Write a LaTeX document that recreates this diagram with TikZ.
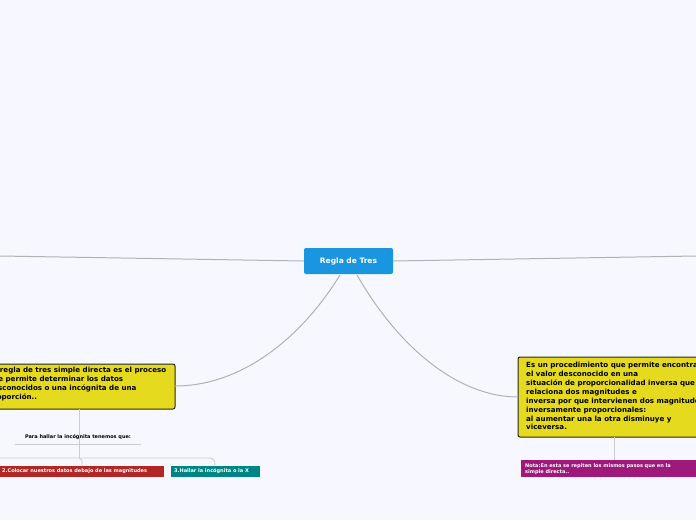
\documentclass[tikz,border=0pt]{standalone}
\usepackage{fontspec}
\setmainfont{DejaVu Sans}
\definecolor{yel}{RGB}{230,218,30}
\begin{document}
\begin{tikzpicture}[x=1pt,y=-1pt,
  conn/.style={draw=gray!60,line width=1pt},
  thin/.style={draw=gray!40,line width=0.8pt},
  yel/.style={draw=black!85,fill=yel,line width=1pt,rounded corners=2pt,inner sep=0pt},
  txt/.style={font=\bfseries\fontsize{7.1}{8.9}\selectfont,align=left,anchor=north west,inner sep=0pt},
  tag/.style={font=\bfseries\fontsize{5}{6.5}\selectfont,text=white,anchor=west,inner sep=0pt,align=left}]
\fill[blue!3!white] (0,0) rectangle (696,520);
\clip (0,0) rectangle (696,520);
% root
\node[fill={rgb,255:red,26;green,150;blue,224},rounded corners=2pt,minimum width=89pt,minimum height=26pt,text=white,font=\bfseries\fontsize{7.5}{9}\selectfont] (root) at (348.5,261) {Regla de Tres};
\coordinate (L) at (0,256);
\coordinate (R) at (696,256);
\draw[conn] (L) -- (root.west);
\draw[conn] (root.east) -- (R);
% left box
\draw[yel] (-12,364) rectangle (175,409);
\coordinate (lb) at (175,386);
\node[txt] (lt) at (-12,367) {La regla de tres simple directa es el proceso\\que permite determinar los datos\\desconocidos o una incógnita de una\\proporción..};
\draw[conn] (340,275) .. controls (300,340) and (240,386) .. (lb);
% right box
\draw[yel] (518,357) rectangle (705,437);
\coordinate (rb) at (518,397);
\node[txt] (rt) at (526,362) {Es un procedimiento que permite encontrar\\el valor desconocido en una\\situación de proporcionalidad inversa que\\relaciona dos magnitudes e\\inversa por que intervienen dos magnitudes\\inversamente proporcionales:\\al aumentar una la otra disminuye y\\viceversa.};
\draw[conn] (357,275) .. controls (400,350) and (460,397) .. (rb);
% left subtree
\node[font=\bfseries\fontsize{5}{6}\selectfont,inner sep=0pt] (para) at (78,437.5) {Para hallar la incógnita tenemos que:};
\draw[thin] (15,444) -- (141,444);
\draw[thin] (79,409) -- (79,444);
\draw[thin] (79,444) -- (79,458);
\fill[red!65!black!85] (-5,466) rectangle (164,477);
\node[tag] (r2) at (2,471.5) {2.Colocar nuestros datos debajo de las magnitudes};
\fill[teal!70!cyan!80!black] (171,466) rectangle (260,477);
\node[tag] (r3) at (174,471.5) {3.Hallar la incógnita o la X};
\draw[thin] (0,458) -- (208,458) .. controls (214,458) and (215,460) .. (215,466);
\draw[thin] (79,458) .. controls (82,459) .. (82,466);
% right subtree
\draw[thin] (614,437) -- (614,460);
\fill[violet!70!purple!90] (521,460) rectangle (700,477);
\node[tag,anchor=north west] (nota) at (525,463) {Nota:En esta se repiten los mismos pasos que en la\\simple directa..};
\end{tikzpicture}
\end{document}
